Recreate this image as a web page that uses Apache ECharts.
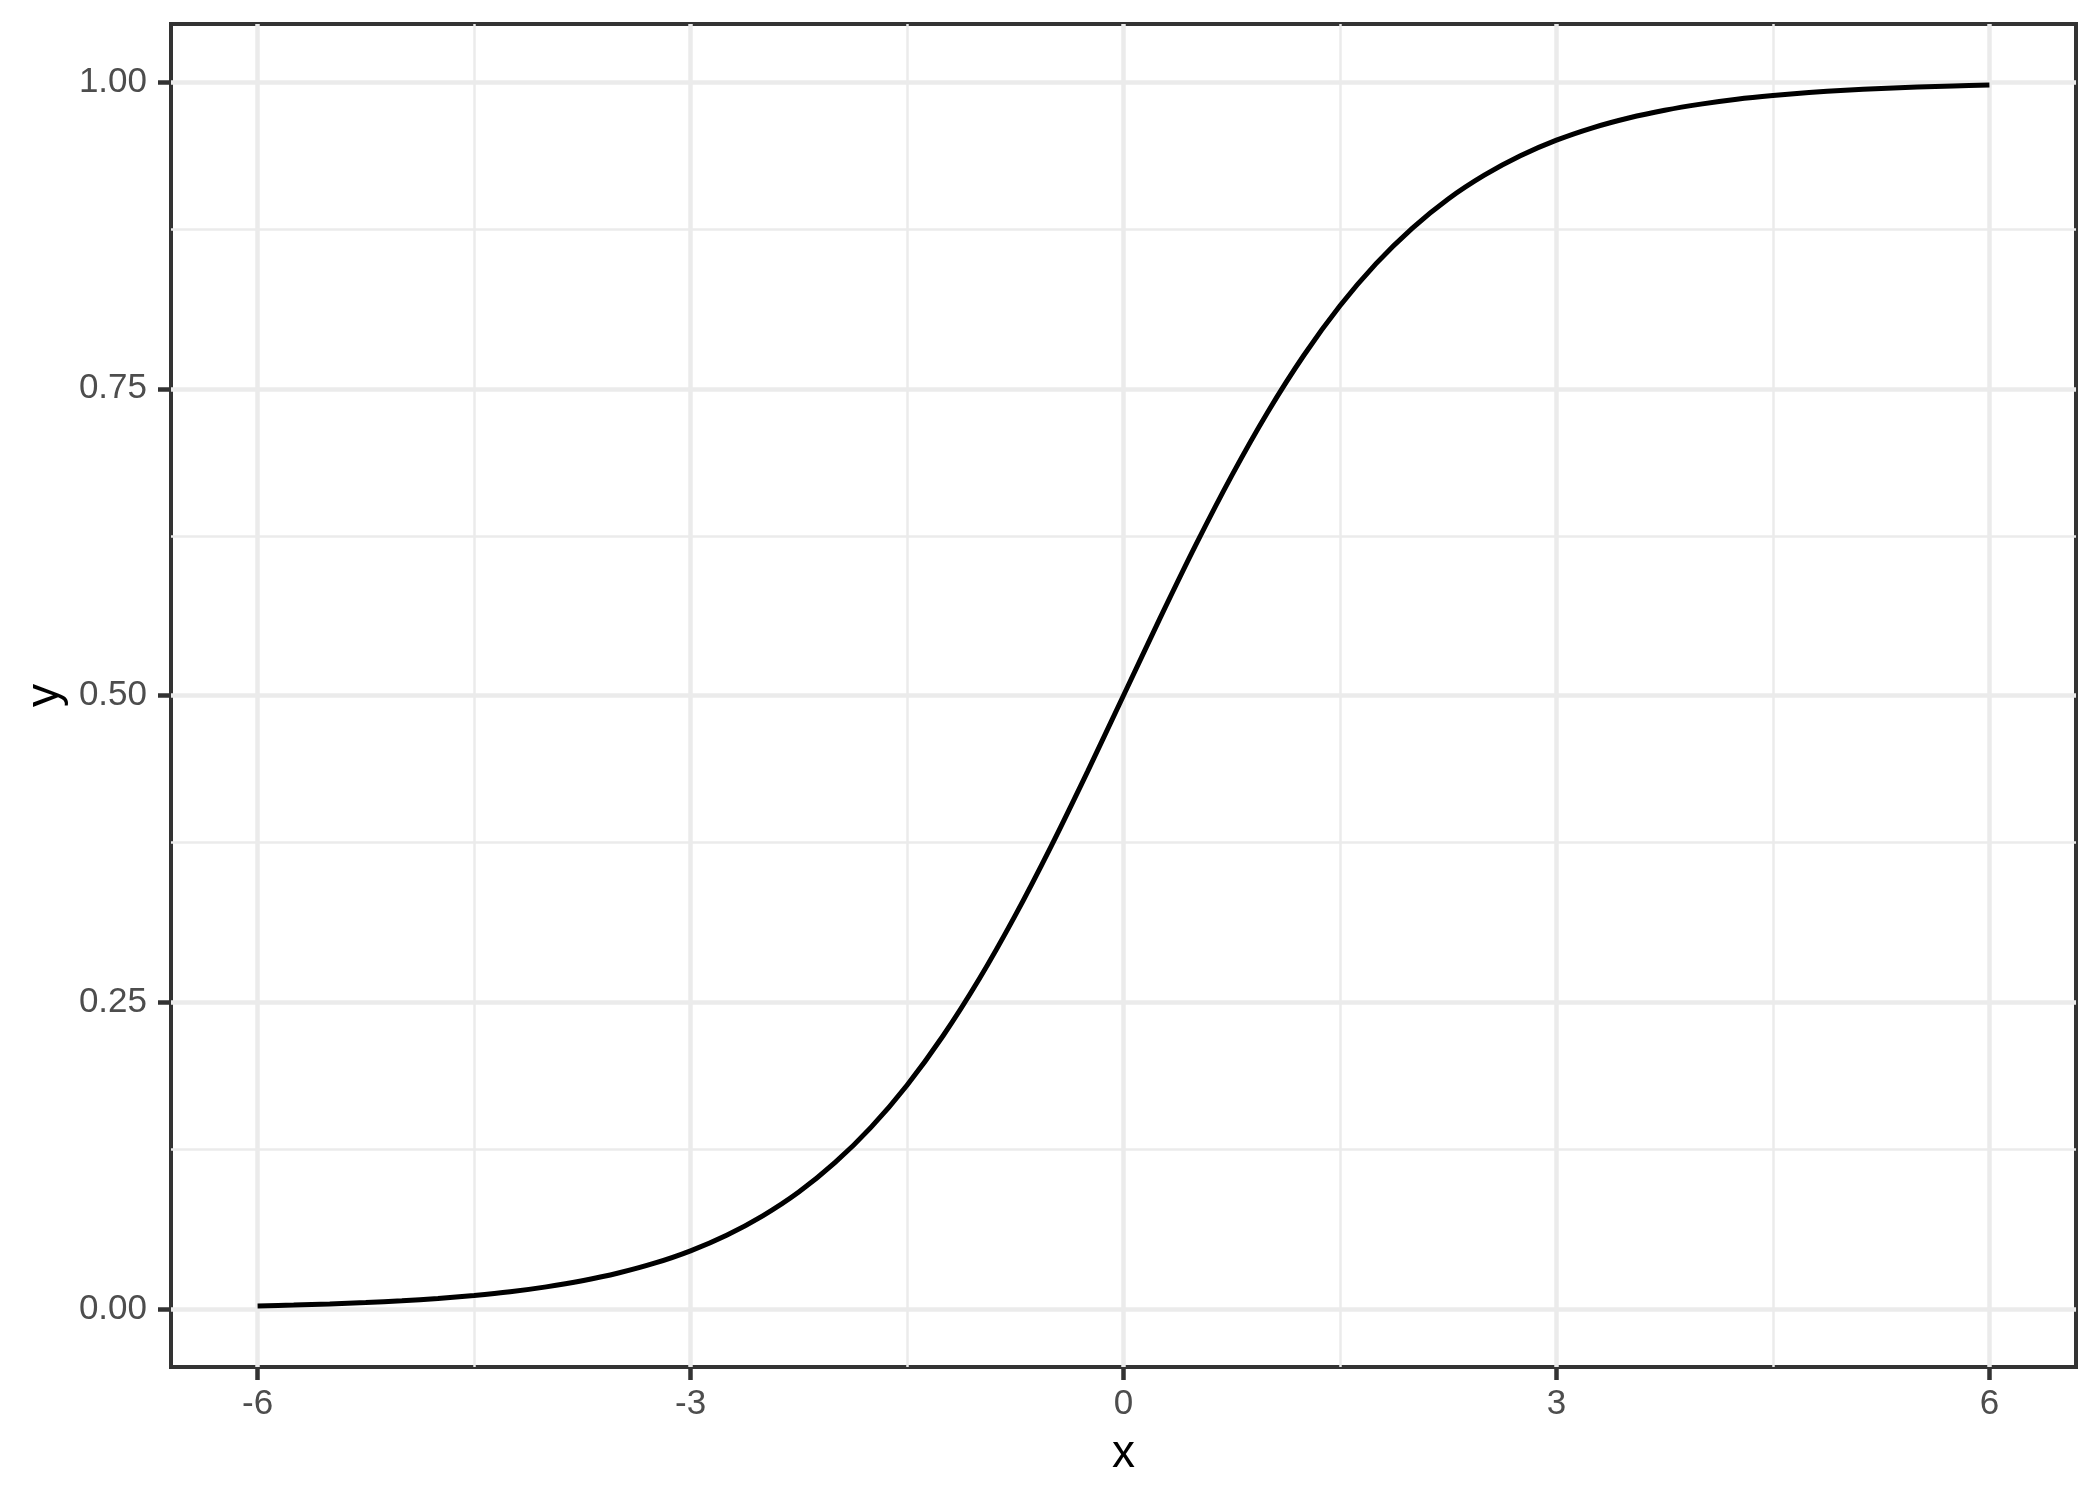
<!DOCTYPE html>
<html>
<head>
<meta charset="utf-8">
<script src="https://cdn.jsdelivr.net/npm/echarts@6/dist/echarts.min.js"></script>
<style>
html,body{margin:0;padding:0;background:#fff;}
#chart{width:2100px;height:1500px;}
</style>
</head>
<body>
<div id="chart"></div>
<script>
// values
const xValues = [-6,-5.75,-5.5,-5.25,-5,-4.75,-4.5,-4.25,-4,-3.75,-3.5,-3.25,-3,-2.75,-2.5,-2.25,-2,-1.75,-1.5,-1.25,-1,-0.75,-0.5,-0.25,0,
  0.25,0.5,0.75,1,1.25,1.5,1.75,2,2.25,2.5,2.75,3,3.25,3.5,3.75,4,4.25,4.5,4.75,5,5.25,5.5,5.75,6];
const yValues = [0.0025,0.0032,0.0041,0.0052,0.0067,0.0086,0.0110,0.0140,0.0180,0.0230,0.0293,0.0373,0.0474,0.0601,0.0759,0.0953,0.1192,0.1480,0.1824,0.2227,0.2689,0.3208,0.3775,0.4378,0.5,
  0.5622,0.6225,0.6792,0.7311,0.7773,0.8176,0.8520,0.8808,0.9047,0.9241,0.9399,0.9526,0.9627,0.9707,0.9770,0.9820,0.9860,0.9890,0.9914,0.9933,0.9948,0.9959,0.9968,0.9975];
const xTicks = [-6,-3,0,3,6];
const xMinor = [-4.5,-1.5,1.5,4.5];
const yTicks = [0,0.25,0.5,0.75,1];
const yMinor = [0.125,0.375,0.625,0.875];
const xLabels = ['-6','-3','0','3','6'];
const yLabels = ['0.00','0.25','0.50','0.75','1.00'];

const chart = echarts.init(document.getElementById('chart'), null, {renderer:'canvas'});
const font = 'Liberation Sans';
const minorLines = [];
xMinor.forEach(v=>minorLines.push({xAxis:v}));
yMinor.forEach(v=>minorLines.push({yAxis:v}));
const majorLines = [];
xTicks.forEach(v=>majorLines.push({xAxis:v}));
yTicks.forEach(v=>majorLines.push({yAxis:v}));

chart.setOption({
  animation:false,
  backgroundColor:'#ffffff',
  grid:{left:171,right:24,top:24,bottom:133,show:true,borderColor:'#333333',borderWidth:4,backgroundColor:'#ffffff',z:0,outerBoundsMode:'none'},
  xAxis:{
    type:'value', min:-6.6, max:6.6, position:'bottom',
    name:'x', nameLocation:'middle', nameGap:64,
    nameTextStyle:{fontFamily:font,fontSize:46,color:'#000000'},
    axisLine:{show:false,onZero:false},
    splitLine:{show:false},
    axisTick:{show:true,inside:false,length:13,lineStyle:{color:'#333333',width:4.5},customValues:xTicks},
    axisLabel:{show:true,margin:20,fontFamily:font,fontSize:35,color:'#4D4D4D',customValues:xTicks,
      formatter:(v)=>{const i=xTicks.indexOf(v);return i>=0?xLabels[i]:'';}}
  },
  yAxis:{
    type:'value', min:-0.0473, max:1.0473, position:'left',
    name:'y', nameLocation:'middle', nameGap:100, nameRotate:90,
    nameTextStyle:{fontFamily:font,fontSize:46,color:'#000000'},
    axisLine:{show:false,onZero:false},
    splitLine:{show:false},
    axisTick:{show:true,inside:false,length:13,lineStyle:{color:'#333333',width:4.5},customValues:yTicks},
    axisLabel:{show:true,margin:24,fontFamily:font,fontSize:35,color:'#4D4D4D',customValues:yTicks,
      formatter:(v)=>{const i=yTicks.indexOf(v);return i>=0?yLabels[i]:'';}}
  },
  series:[
    {
      type:'line', data:[], z:1, silent:true,
      markLine:{silent:true,symbol:['none','none'],label:{show:false},
        lineStyle:{color:'#EBEBEB',type:'solid',width:2.5},data:minorLines,animation:false}
    },
    {
      type:'line', data:[], z:2, silent:true,
      markLine:{silent:true,symbol:['none','none'],label:{show:false},
        lineStyle:{color:'#EBEBEB',type:'solid',width:4.5},data:majorLines,animation:false}
    },
    {
      type:'line', z:5,
      data:xValues.map((x,i)=>[x,yValues[i]]),
      showSymbol:false, symbol:'none', smooth:0.3,
      lineStyle:{color:'#000000',width:5}
    }
  ]
});
</script>
</body>
</html>
